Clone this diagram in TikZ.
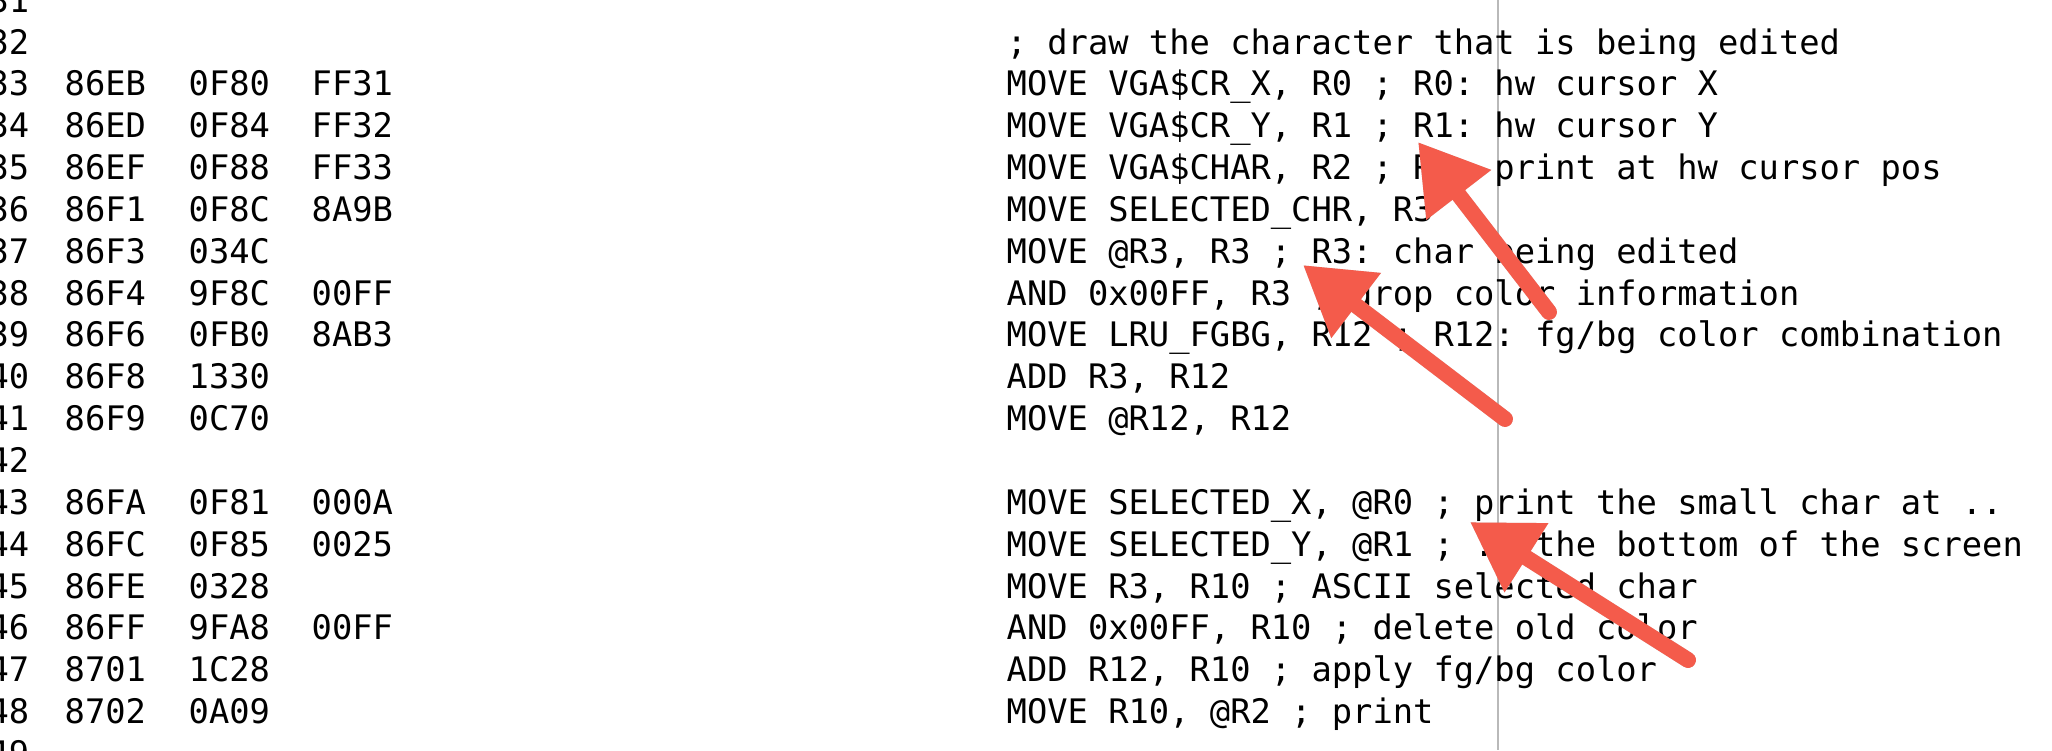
\documentclass[tikz,border=0pt]{standalone}
\usepackage{fontspec}
\setmonofont{DejaVu Sans Mono}
\usetikzlibrary{arrows.meta}
\definecolor{arrowred}{HTML}{F45B4B}
\tikzset{
  code/.style={anchor=west,inner sep=0pt,font=\ttfamily\fontsize{9.6pt}{11pt}\selectfont,text height=0.74em,text depth=0.22em},
  lnum/.style={code,anchor=east},
  callout/.style={arrowred,line width=4.5pt,line cap=round,-{Triangle[width=22pt,length=19pt]}}
}
\begin{document}
\begin{tikzpicture}[x=0.01cm,y=-0.01cm]
\useasboundingbox (0,0) rectangle (2052,750);
\fill[white] (0,0) rectangle (2052,750);
\draw[gray!55,line width=0.6pt] (1498,0) -- (1498,750);
% line numbers
\foreach \n [count=\i from 0] in {31,...,49} {
  \node[lnum] (ln\i) at (30,{3+41.85*\i}) {\n};
}
% hex columns
\foreach \i/\a/\b/\c in {2/86EB/0F80/FF31,3/86ED/0F84/FF32,4/86EF/0F88/FF33,5/86F1/0F8C/8A9B,6/86F3/034C/,7/86F4/9F8C/00FF,8/86F6/0FB0/8AB3,9/86F8/1330/,10/86F9/0C70/,12/86FA/0F81/000A,13/86FC/0F85/0025,14/86FE/0328/,15/86FF/9FA8/00FF,16/8701/1C28/,17/8702/0A09/} {
  \node[code] (a\i) at (64,{3+41.85*\i}) {\a};
  \node[code] (b\i) at (188,{3+41.85*\i}) {\b};
  \node[code] (c\i) at (311,{3+41.85*\i}) {\c};
}
% source
\node[code] (s1) at (1006,{3+41.85*1}) {; draw the character that is being edited};
\node[code] (s2) at (1006,{3+41.85*2}) {MOVE VGA\$CR\_X, R0 ; R0: hw cursor X};
\node[code] (s3) at (1006,{3+41.85*3}) {MOVE VGA\$CR\_Y, R1 ; R1: hw cursor Y};
\node[code] (s4) at (1006,{3+41.85*4}) {MOVE VGA\$CHAR, R2 ; R2: print at hw cursor pos};
\node[code] (s5) at (1006,{3+41.85*5}) {MOVE SELECTED\_CHR, R3};
\node[code] (s6) at (1006,{3+41.85*6}) {MOVE @R3, R3 ; R3: char being edited};
\node[code] (s7) at (1006,{3+41.85*7}) {AND 0x00FF, R3 ; drop color information};
\node[code] (s8) at (1006,{3+41.85*8}) {MOVE LRU\_FGBG, R12 ; R12: fg/bg color combination};
\node[code] (s9) at (1006,{3+41.85*9}) {ADD R3, R12};
\node[code] (s10) at (1006,{3+41.85*10}) {MOVE @R12, R12};
\node[code] (s12) at (1006,{3+41.85*12}) {MOVE SELECTED\_X, @R0 ; print the small char at ..};
\node[code] (s13) at (1006,{3+41.85*13}) {MOVE SELECTED\_Y, @R1 ; .. the bottom of the screen};
\node[code] (s14) at (1006,{3+41.85*14}) {MOVE R3, R10 ; ASCII selected char};
\node[code] (s15) at (1006,{3+41.85*15}) {AND 0x00FF, R10 ; delete old color};
\node[code] (s16) at (1006,{3+41.85*16}) {ADD R12, R10 ; apply fg/bg color};
\node[code] (s17) at (1006,{3+41.85*17}) {MOVE R10, @R2 ; print};
% arrows
\coordinate (t1) at (1549,312); \coordinate (h1) at (1418,142);
\coordinate (t2) at (1505,419); \coordinate (h2) at (1303,265);
\coordinate (t3) at (1688,660); \coordinate (h3) at (1470,522);
\foreach \k in {1,2,3} {
  \draw[callout,black!35,opacity=0.5,shift={(3,4)}] (t\k) -- (h\k);
  \draw[callout] (t\k) -- (h\k);
}
\end{tikzpicture}
\end{document}
